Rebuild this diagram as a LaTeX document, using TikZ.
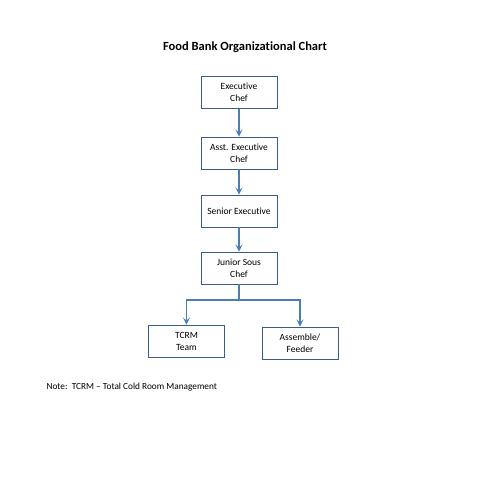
\documentclass[tikz,border=0pt]{standalone}
\usepackage{fontspec}
\setmainfont{Carlito}[Ligatures=CommonOff]
\usepackage{tikz}
\usetikzlibrary{arrows.meta,positioning}
\definecolor{rahmen}{HTML}{385D8A}
\definecolor{pfeil}{HTML}{4A7EBB}
\tikzset{
  posten/.style={draw=rahmen,line width=0.9pt,fill=white,minimum width=76pt,minimum height=32pt,
    align=center,inner sep=1pt,font=\fontsize{9.5}{12}\selectfont},
  pfeilv/.style={-{Stealth[length=7pt,width=7pt,inset=3pt]},pfeil,line width=1.4pt},
  linie/.style={pfeil,line width=1.4pt},
}
\begin{document}
\begin{tikzpicture}[x=1pt,y=1pt]
  \useasboundingbox (0,0) rectangle (480,480);
  \node[font=\bfseries\fontsize{12.5}{14}\selectfont] (titel) at (245,433) {Food Bank Organizational Chart};
  \node[posten] (chef) at (239,387.5) {Executive\\Chef};
  \node[posten] (asst) at (239,327) {Asst. Executive\\Chef};
  \node[posten] (senior) at (239,269) {Senior Executive};
  \node[posten] (junior) at (239,212) {Junior Sous\\Chef};
  \node[posten] (tcrm) at (186.5,139) {TCRM\\Team};
  \node[posten] (feeder) at (300,137) {Assemble/\\Feeder};
  \draw[pfeilv] (chef) -- (asst);
  \draw[pfeilv] (asst) -- (senior);
  \draw[pfeilv] (senior) -- (junior);
  \coordinate (gabel) at (239,180);
  \draw[linie] (junior) -- (gabel);
  \draw[pfeilv] (gabel) -| (tcrm);
  \draw[pfeilv] (gabel) -| (feeder);
  \node[anchor=west,font=\fontsize{9.3}{11}\selectfont] (notiz) at (43,93) {Note:\ \ TCRM -- Total Cold Room Management};
\end{tikzpicture}
\end{document}
